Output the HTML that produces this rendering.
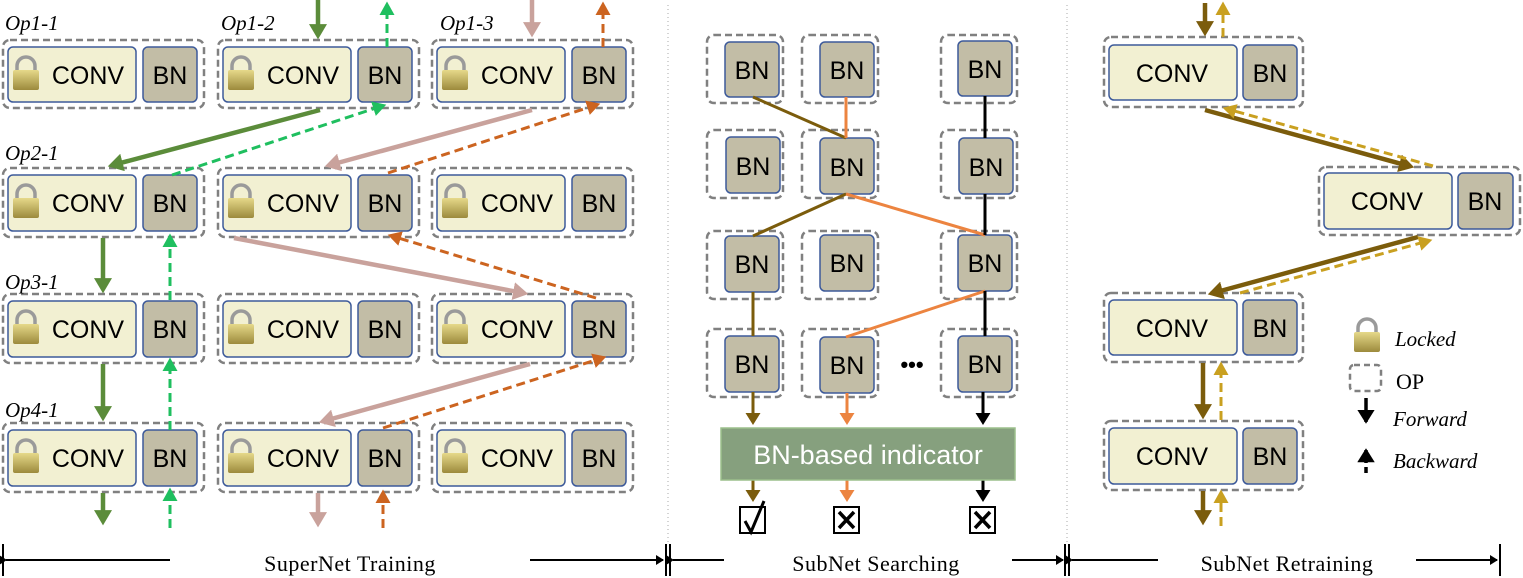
<!DOCTYPE html>
<html><head><meta charset="utf-8"><style>
html,body{margin:0;padding:0;background:#fff;}
svg{display:block;}
.cv{font-family:"Liberation Sans",sans-serif;font-size:25px;fill:#000;}
.op{font-family:"Liberation Serif",serif;font-style:italic;font-size:21px;fill:#000;}
.tt{font-family:"Liberation Serif",serif;font-size:22px;fill:#000;}
</style></head><body>
<svg width="1523" height="578" viewBox="0 0 1523 578" xmlns="http://www.w3.org/2000/svg">
<defs>
<linearGradient id="lg" x1="0" y1="0" x2="0" y2="1"><stop offset="0" stop-color="#e6d98a"/><stop offset="1" stop-color="#9c8a3c"/></linearGradient>
<g id="lock">
<path d="M4 12 V8 A9 9 0 0 1 22 8 V12" fill="none" stroke="#9a9a9a" stroke-width="3.5"/>
<rect x="0" y="12" width="26" height="20" rx="2" fill="url(#lg)"/>
</g>
<marker id="mG" markerWidth="4" markerHeight="4" refX="2.2" refY="2" orient="auto" markerUnits="strokeWidth"><path d="M0,0 L3.4,2 L0,4z" fill="#5b8c3a"/></marker>
<marker id="mg" markerWidth="5" markerHeight="5" refX="3" refY="2.5" orient="auto" markerUnits="strokeWidth"><path d="M0,0 L4.5,2.5 L0,5z" fill="#1fbf5f"/></marker>
<marker id="mP" markerWidth="4" markerHeight="4" refX="2.2" refY="2" orient="auto" markerUnits="strokeWidth"><path d="M0,0 L3.4,2 L0,4z" fill="#c9a29c"/></marker>
<marker id="mO" markerWidth="5" markerHeight="5" refX="3" refY="2.5" orient="auto" markerUnits="strokeWidth"><path d="M0,0 L4.5,2.5 L0,5z" fill="#cc6420"/></marker>
<marker id="mB" markerWidth="4" markerHeight="4" refX="2.2" refY="2" orient="auto" markerUnits="strokeWidth"><path d="M0,0 L3.4,2 L0,4z" fill="#7b5c0c"/></marker>
<marker id="mY" markerWidth="5" markerHeight="5" refX="3" refY="2.5" orient="auto" markerUnits="strokeWidth"><path d="M0,0 L4.5,2.5 L0,5z" fill="#c9a020"/></marker>
<marker id="mB2" markerWidth="5" markerHeight="5" refX="3" refY="2.5" orient="auto" markerUnits="strokeWidth"><path d="M0,0 L4,2.5 L0,5z" fill="#7b5c0c"/></marker>
<marker id="mR" markerWidth="5" markerHeight="5" refX="3" refY="2.5" orient="auto" markerUnits="strokeWidth"><path d="M0,0 L4,2.5 L0,5z" fill="#ec8440"/></marker>
<marker id="mK" markerWidth="5" markerHeight="5" refX="3" refY="2.5" orient="auto" markerUnits="strokeWidth"><path d="M0,0 L4,2.5 L0,5z" fill="#000"/></marker>
<marker id="mT" markerWidth="5" markerHeight="5" refX="3.5" refY="2.5" orient="auto" markerUnits="strokeWidth"><path d="M0,0 L4,2.5 L0,5z" fill="#000"/></marker>
</defs>

<line x1="668" y1="5" x2="668" y2="545" stroke="#aaa" stroke-width="1" stroke-dasharray="1,3"/>
<line x1="1067" y1="5" x2="1067" y2="545" stroke="#aaa" stroke-width="1" stroke-dasharray="1,3"/>

<g fill="none" stroke="#808080" stroke-width="2.5" stroke-dasharray="7,4">
<rect x="3" y="40" width="201" height="68" rx="7"/><rect x="218" y="40" width="201" height="68" rx="7"/><rect x="432" y="40" width="201" height="68" rx="7"/>
<rect x="3" y="168" width="201" height="69" rx="7"/><rect x="218" y="168" width="201" height="69" rx="7"/><rect x="432" y="168" width="201" height="69" rx="7"/>
<rect x="3" y="294" width="201" height="69" rx="7"/><rect x="218" y="294" width="201" height="69" rx="7"/><rect x="432" y="294" width="201" height="69" rx="7"/>
<rect x="3" y="423" width="201" height="69" rx="7"/><rect x="218" y="423" width="201" height="69" rx="7"/><rect x="432" y="423" width="201" height="69" rx="7"/>
</g>
<g stroke="#3d5a9a" stroke-width="1.5">
<g fill="#f2f0d2">
<rect x="8" y="47" width="128" height="55" rx="5"/><rect x="223" y="47" width="128" height="55" rx="5"/><rect x="437" y="47" width="128" height="55" rx="5"/>
<rect x="8" y="175" width="128" height="56" rx="5"/><rect x="223" y="175" width="128" height="56" rx="5"/><rect x="437" y="175" width="128" height="56" rx="5"/>
<rect x="8" y="301" width="128" height="56" rx="5"/><rect x="223" y="301" width="128" height="56" rx="5"/><rect x="437" y="301" width="128" height="56" rx="5"/>
<rect x="8" y="430" width="128" height="56" rx="5"/><rect x="223" y="430" width="128" height="56" rx="5"/><rect x="437" y="430" width="128" height="56" rx="5"/>
</g>
<g fill="#c2bda6">
<rect x="143" y="47" width="54" height="55" rx="5"/><rect x="358" y="47" width="54" height="55" rx="5"/><rect x="572" y="47" width="54" height="55" rx="5"/>
<rect x="143" y="175" width="54" height="56" rx="5"/><rect x="358" y="175" width="54" height="56" rx="5"/><rect x="572" y="175" width="54" height="56" rx="5"/>
<rect x="143" y="301" width="54" height="56" rx="5"/><rect x="358" y="301" width="54" height="56" rx="5"/><rect x="572" y="301" width="54" height="56" rx="5"/>
<rect x="143" y="430" width="54" height="56" rx="5"/><rect x="358" y="430" width="54" height="56" rx="5"/><rect x="572" y="430" width="54" height="56" rx="5"/>
</g>
</g>
<g>
<use href="#lock" x="13" y="58"/><use href="#lock" x="228" y="58"/><use href="#lock" x="442" y="58"/>
<use href="#lock" x="13" y="186"/><use href="#lock" x="228" y="186"/><use href="#lock" x="442" y="186"/>
<use href="#lock" x="13" y="312"/><use href="#lock" x="228" y="312"/><use href="#lock" x="442" y="312"/>
<use href="#lock" x="13" y="441"/><use href="#lock" x="228" y="441"/><use href="#lock" x="442" y="441"/>
</g>
<g class="cv" text-anchor="middle">
<text x="88" y="84">CONV</text><text x="303" y="84">CONV</text><text x="517" y="84">CONV</text>
<text x="88" y="212">CONV</text><text x="303" y="212">CONV</text><text x="517" y="212">CONV</text>
<text x="88" y="338">CONV</text><text x="303" y="338">CONV</text><text x="517" y="338">CONV</text>
<text x="88" y="467">CONV</text><text x="303" y="467">CONV</text><text x="517" y="467">CONV</text>
<text x="170" y="84">BN</text><text x="385" y="84">BN</text><text x="599" y="84">BN</text>
<text x="170" y="212">BN</text><text x="385" y="212">BN</text><text x="599" y="212">BN</text>
<text x="170" y="338">BN</text><text x="385" y="338">BN</text><text x="599" y="338">BN</text>
<text x="170" y="467">BN</text><text x="385" y="467">BN</text><text x="599" y="467">BN</text>
</g>
<g class="op">
<text x="5" y="30">Op1-1</text><text x="221" y="30">Op1-2</text><text x="440" y="30">Op1-3</text>
<text x="5" y="160">Op2-1</text><text x="5" y="289">Op3-1</text><text x="5" y="417">Op4-1</text>
</g>

<g fill="none">
<g stroke="#5b8c3a" stroke-width="4.5" marker-end="url(#mG)">
<line x1="318" y1="0" x2="318" y2="34"/>
<line x1="320" y1="110" x2="113" y2="165"/>
<line x1="103" y1="238" x2="103" y2="288"/>
<line x1="103" y1="364" x2="103" y2="416"/>
<line x1="103" y1="493" x2="103" y2="520"/>
</g>
<g stroke="#1fbf5f" stroke-width="3" stroke-dasharray="9,5" marker-end="url(#mg)">
<line x1="387" y1="47" x2="387" y2="6"/>
<line x1="172" y1="175" x2="382" y2="106"/>
<line x1="170" y1="300" x2="170" y2="238"/>
<line x1="170" y1="430" x2="170" y2="362"/>
<line x1="170" y1="528" x2="170" y2="492"/>
</g>
<g stroke="#c9a29c" stroke-width="4.5" marker-end="url(#mP)">
<line x1="532" y1="0" x2="532" y2="32"/>
<line x1="532" y1="110" x2="330" y2="165"/>
<line x1="234" y1="238" x2="523" y2="293"/>
<line x1="530" y1="364" x2="324" y2="421"/>
<line x1="318" y1="493" x2="318" y2="522"/>
</g>
<g stroke="#cc6420" stroke-width="3" stroke-dasharray="9,5" marker-end="url(#mO)">
<line x1="603" y1="47" x2="603" y2="6"/>
<line x1="388" y1="173" x2="596" y2="105"/>
<line x1="596" y1="298" x2="392" y2="236"/>
<line x1="383" y1="428" x2="602" y2="358"/>
<line x1="383" y1="528" x2="383" y2="494"/>
</g>
</g>

<g fill="none" stroke="#808080" stroke-width="2.5" stroke-dasharray="7,4">
<rect x="707" y="35" width="76" height="68" rx="7"/><rect x="802" y="35" width="76" height="68" rx="7"/><rect x="941" y="35" width="76" height="68" rx="7"/>
<rect x="707" y="130" width="76" height="68" rx="7"/><rect x="802" y="130" width="76" height="68" rx="7"/><rect x="941" y="130" width="76" height="68" rx="7"/>
<rect x="707" y="231" width="76" height="68" rx="7"/><rect x="802" y="231" width="76" height="68" rx="7"/><rect x="941" y="231" width="76" height="68" rx="7"/>
<rect x="707" y="329" width="76" height="68" rx="7"/><rect x="802" y="329" width="76" height="68" rx="7"/><rect x="941" y="329" width="76" height="68" rx="7"/>
</g>
<g fill="#c2bda6" stroke="#3d5a9a" stroke-width="1.5">
<rect x="725" y="42" width="54" height="55" rx="5"/><rect x="820" y="42" width="54" height="55" rx="5"/><rect x="958" y="41" width="54" height="55" rx="5"/>
<rect x="726" y="137" width="54" height="56" rx="5"/><rect x="820" y="138" width="54" height="56" rx="5"/><rect x="959" y="138" width="54" height="56" rx="5"/>
<rect x="725" y="236" width="54" height="56" rx="5"/><rect x="820" y="235" width="54" height="56" rx="5"/><rect x="958" y="235" width="54" height="56" rx="5"/>
<rect x="725" y="336" width="54" height="56" rx="5"/><rect x="820" y="337" width="54" height="56" rx="5"/><rect x="958" y="336" width="54" height="56" rx="5"/>
</g>
<g fill="none" stroke-width="3">
<g stroke="#7b5c0c"><polyline points="753,97 846,138"/><polyline points="846,194 753,236"/><line x1="753" y1="292" x2="753" y2="336"/></g>
<g stroke="#ec8440"><line x1="846" y1="97" x2="846" y2="138"/><polyline points="846,194 985,235"/><polyline points="985,291 846,337"/></g>
<g stroke="#000"><line x1="985" y1="96" x2="985" y2="138"/><line x1="985" y1="194" x2="985" y2="235"/><line x1="985" y1="291" x2="985" y2="336"/></g>
</g>
<g class="cv" text-anchor="middle">
<text x="752" y="79">BN</text><text x="847" y="79">BN</text><text x="985" y="78">BN</text>
<text x="753" y="175">BN</text><text x="847" y="176">BN</text><text x="986" y="176">BN</text>
<text x="752" y="273">BN</text><text x="847" y="272">BN</text><text x="985" y="272">BN</text>
<text x="752" y="373">BN</text><text x="847" y="374">BN</text><text x="985" y="373">BN</text>
</g>
<text x="912" y="372" font-family="Liberation Sans,sans-serif" font-size="22" font-weight="bold" text-anchor="middle">•••</text>
<g fill="none" stroke-width="3">
<line x1="753" y1="392" x2="753" y2="422" stroke="#7b5c0c" marker-end="url(#mB2)"/>
<line x1="847" y1="393" x2="847" y2="422" stroke="#ec8440" marker-end="url(#mR)"/>
<line x1="983" y1="392" x2="983" y2="422" stroke="#000" marker-end="url(#mK)"/>
<line x1="753" y1="480" x2="753" y2="499" stroke="#7b5c0c" marker-end="url(#mB2)"/>
<line x1="847" y1="480" x2="847" y2="499" stroke="#ec8440" marker-end="url(#mR)"/>
<line x1="983" y1="480" x2="983" y2="499" stroke="#000" marker-end="url(#mK)"/>
</g>
<rect x="721" y="428" width="294" height="52" fill="#86a07e" stroke="#9bbf8c" stroke-width="1.5"/>
<text x="868" y="464" text-anchor="middle" font-family="Liberation Sans,sans-serif" font-size="27" fill="#fff">BN-based indicator</text>
<g fill="#fff" stroke="#000" stroke-width="2">
<rect x="740" y="507" width="25" height="26"/><rect x="834" y="507" width="25" height="26"/><rect x="970" y="507" width="25" height="26"/>
</g>
<path d="M745 521 L751 532 L764 501" fill="none" stroke="#000" stroke-width="3"/>
<g stroke="#000" stroke-width="3.5"><path d="M839 512 L854 528 M854 512 L839 528"/><path d="M975 512 L990 528 M990 512 L975 528"/></g>

<g fill="none" stroke="#808080" stroke-width="2.5" stroke-dasharray="7,4">
<rect x="1104" y="37" width="199" height="70" rx="7"/>
<rect x="1319" y="167" width="201" height="68" rx="7"/>
<rect x="1104" y="293" width="199" height="69" rx="7"/>
<rect x="1104" y="421" width="199" height="69" rx="7"/>
</g>
<g stroke="#3d5a9a" stroke-width="1.5">
<g fill="#f2f0d2">
<rect x="1109" y="45" width="128" height="55" rx="5"/><rect x="1324" y="173" width="128" height="56" rx="5"/>
<rect x="1109" y="300" width="128" height="55" rx="5"/><rect x="1109" y="428" width="128" height="56" rx="5"/>
</g>
<g fill="#c2bda6">
<rect x="1243" y="45" width="54" height="55" rx="5"/><rect x="1458" y="173" width="55" height="56" rx="5"/>
<rect x="1243" y="300" width="54" height="55" rx="5"/><rect x="1243" y="428" width="54" height="56" rx="5"/>
</g>
</g>
<g class="cv" text-anchor="middle">
<text x="1172" y="82">CONV</text><text x="1270" y="82">BN</text>
<text x="1387" y="210">CONV</text><text x="1485" y="210">BN</text>
<text x="1172" y="337">CONV</text><text x="1270" y="337">BN</text>
<text x="1172" y="465">CONV</text><text x="1270" y="465">BN</text>
</g>
<g fill="none">
<g stroke="#7b5c0c" stroke-width="4.5" marker-end="url(#mB)">
<line x1="1205" y1="3" x2="1205" y2="31"/>
<line x1="1205" y1="110" x2="1409" y2="166"/>
<line x1="1418" y1="237" x2="1213" y2="293"/>
<line x1="1203" y1="363" x2="1203" y2="414"/>
<line x1="1203" y1="491" x2="1203" y2="520"/>
</g>
<g stroke="#c9a020" stroke-width="3" stroke-dasharray="9,5" marker-end="url(#mY)">
<line x1="1223" y1="37" x2="1223" y2="6"/>
<line x1="1433" y1="166" x2="1227" y2="109"/>
<line x1="1240" y1="293" x2="1428" y2="241"/>
<line x1="1221" y1="420" x2="1221" y2="366"/>
<line x1="1221" y1="526" x2="1221" y2="494"/>
</g>
</g>
<use href="#lock" x="1354" y="320"/>
<text x="1395" y="346" class="op" font-size="23">Locked</text>
<rect x="1350" y="365" width="31" height="26" rx="4" fill="none" stroke="#808080" stroke-width="2.5" stroke-dasharray="6,4"/>
<text x="1396" y="389" class="tt" font-size="23">OP</text>
<line x1="1366" y1="398" x2="1366" y2="422" stroke="#000" stroke-width="3.5" marker-end="url(#mT)"/>
<text x="1393" y="426" class="op" font-size="23">Forward</text>
<line x1="1366" y1="473" x2="1366" y2="450" stroke="#000" stroke-width="3.5" stroke-dasharray="6,4" marker-end="url(#mT)"/>
<text x="1393" y="468" class="op" font-size="23">Backward</text>

<g stroke="#000" stroke-width="2" fill="none">
<line x1="3" y1="544" x2="3" y2="576"/>
<line x1="6" y1="560" x2="170" y2="560" marker-start="url(#mT)"/>
<line x1="530" y1="560" x2="663" y2="560" marker-end="url(#mT)"/>
<line x1="666" y1="544" x2="666" y2="576"/><line x1="670" y1="544" x2="670" y2="576"/>
<line x1="673" y1="560" x2="724" y2="560" marker-start="url(#mT)"/>
<line x1="1012" y1="560" x2="1063" y2="560" marker-end="url(#mT)"/>
<line x1="1065" y1="544" x2="1065" y2="576"/><line x1="1069" y1="544" x2="1069" y2="576"/>
<line x1="1072" y1="560" x2="1158" y2="560" marker-start="url(#mT)"/>
<line x1="1416" y1="560" x2="1497" y2="560" marker-end="url(#mT)"/>
<line x1="1500" y1="544" x2="1500" y2="576"/>
</g>
<text x="350" y="571" class="tt" text-anchor="middle" letter-spacing="0.5">SuperNet Training</text>
<text x="876" y="571" class="tt" text-anchor="middle" letter-spacing="0.5">SubNet Searching</text>
<text x="1287" y="571" class="tt" text-anchor="middle" letter-spacing="0.5">SubNet Retraining</text>
</svg>
</body></html>
